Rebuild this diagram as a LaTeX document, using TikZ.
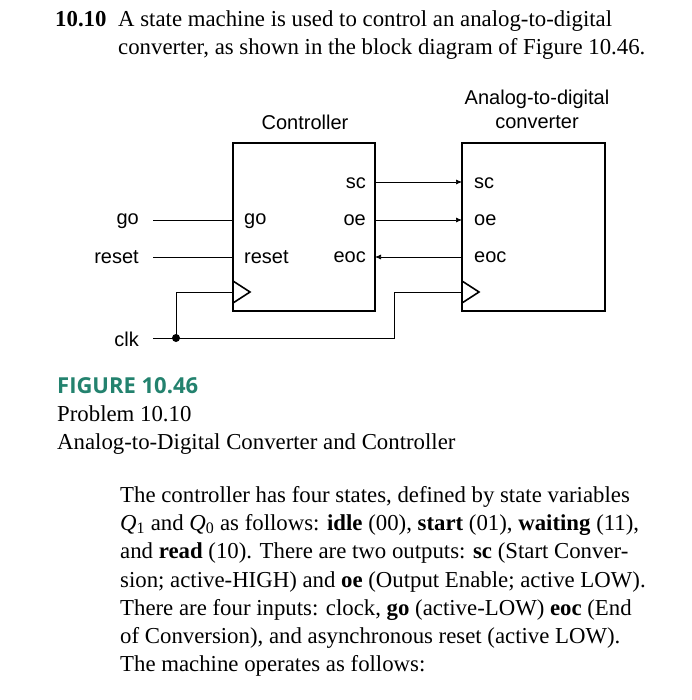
\documentclass[tikz,border=0pt]{standalone}
\usepackage{fontspec}
\setmainfont{Liberation Serif}
\setsansfont{Liberation Sans}
\newfontfamily\capfont{Open Sans}
\definecolor{figteal}{RGB}{35,130,110}
\usetikzlibrary{arrows.meta}
\begin{document}
\begin{tikzpicture}[x=1pt,y=-1pt,
  txt/.style={anchor=base west,inner sep=0pt,font=\fontsize{22.8}{26}\selectfont},
  lab/.style={inner sep=0pt,font=\sffamily\fontsize{20}{24}\selectfont},
  blk/.style={draw,line width=2pt},
  wire/.style={line width=0.7pt},
  arr/.style={wire,-{Latex[length=6pt,width=5pt]}}]
\useasboundingbox (0,0) rectangle (691,700);
\node[txt] (t0) at (55,27) {\textbf{10.10}};
\node[txt] (t1) at (118,27) {A state machine is used to control an analog-to-digital};
\node[txt] (t2) at (118,55) {converter, as shown in the block diagram of Figure 10.46.};
% boxes
\draw[blk] (233,143) rectangle (375,311);
\draw[blk] (462,143) rectangle (605,311);
\node[lab] (ctl) at (305,122) {Controller};
\node[lab,align=center] (adcl) at (537,109) {Analog-to-digital\\converter};
% labels inside
\node[lab,anchor=east] (csc) at (366,183) {sc};
\node[lab,anchor=east] (coe) at (366,220) {oe};
\node[lab,anchor=east] (ceoc) at (366,257) {eoc};
\node[lab,anchor=west] (cgo) at (244,221) {go};
\node[lab,anchor=west] (crs) at (244,257) {reset};
\node[lab,anchor=west] (asc) at (474,183) {sc};
\node[lab,anchor=west] (aoe) at (474,220) {oe};
\node[lab,anchor=west] (aeoc) at (474,257) {eoc};
\node[lab,anchor=east] (go) at (139,221) {go};
\node[lab,anchor=east] (rs) at (139,257) {reset};
\node[lab,anchor=east] (clk) at (139,339) {clk};
% clock triangles
\draw[line width=1.6pt] (233,281) -- (250,292) -- (233,303);
\draw[line width=1.6pt] (462,281) -- (479,292) -- (462,303);
% wires
\draw[wire] (153,220) -- (233,220);
\draw[wire] (153,257) -- (233,257);
\draw[arr] (375,182) -- (462,182);
\draw[arr] (375,220) -- (462,220);
\draw[arr] (462,257) -- (375,257);
\coordinate (dot) at (176,338);
\draw[wire] (153,338) -- (394,338) -- (394,292) -- (462,292);
\draw[wire] (dot) -- (176,292) -- (233,292);
\fill (dot) circle (4);
% caption
\node[txt,font=\capfont\fontsize{22}{26}\selectfont\bfseries,text=figteal] (fig) at (57,393) {FIGURE 10.46};
\node[txt] (c1) at (57,421) {Problem 10.10};
\node[txt] (c2) at (57,449) {Analog-to-Digital Converter and Controller};
% body
\node[txt] (b1) at (120,502) {The controller has four states, defined by state variables};
\node[txt] (b2) at (120,530) {\textit{Q}\textsubscript{1} and \textit{Q}\textsubscript{0} as follows: \textbf{idle} (00), \textbf{start} (01), \textbf{waiting} (11),};
\node[txt] (b3) at (120,558) {and \textbf{read} (10). There are two outputs: \textbf{sc} (Start Conver-};
\node[txt] (b4) at (120,587) {sion; active-HIGH) and \textbf{oe} (Output Enable; active LOW).};
\node[txt] (b5) at (120,615) {There are four inputs: clock, \textbf{go} (active-LOW) \textbf{eoc} (End};
\node[txt] (b6) at (120,643) {of Conversion), and asynchronous reset (active LOW).};
\node[txt] (b7) at (120,671) {The machine operates as follows:};
\end{tikzpicture}
\end{document}
